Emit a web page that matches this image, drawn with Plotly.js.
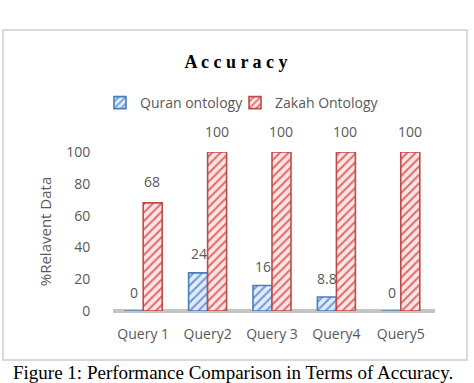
<!DOCTYPE html>
<html>
<head>
<meta charset="utf-8">
<script src="https://cdn.plot.ly/plotly-3.0.1.min.js"></script>
<style>
html,body{margin:0;padding:0;background:#fff;}
#chart{width:474px;height:383px;}
</style>
</head>
<body>
<div id="chart"></div>
<script>
// ---- data ----
var categories = ["Query 1", "Query2", "Query 3", "Query4", "Query5"];
var quranValues = [0, 24, 16, 8.8, 0];
var zakahValues = [68, 100, 100, 100, 100];
var quranLabels = ["0", "24", "16", "8.8", "0"];
var zakahLabels = ["68", "100", "100", "100", "100"];
var seriesNames = ["Quran ontology", "Zakah Ontology"];
var yTicks = [0, 20, 40, 60, 80, 100];

// ---- layout geometry (pixels) ----
var W = 474, H = 383;
var plotL = 111, plotR = 433, plotT = 152, plotB = 311;
function px(x){ return (x - plotL) / (plotR - plotL); }
function py(y){ return (plotB - y) / (plotB - plotT); }

var gray = "#595959";
var sans = "Open Sans, Noto Sans, sans-serif";

var traces = [
  {
    type: "bar", name: seriesNames[0], x: categories, y: quranValues,
    legend: "legend",
    marker: {
      color: "#dbe6f5",
      line: {color: "#4a7ebb", width: 1.6},
      pattern: {shape: "/", fgcolor: "#6b9bd8", bgcolor: "#e3ecf8", size: 6, solidity: 0.35}
    },
    hoverinfo: "x+y"
  },
  {
    type: "bar", name: seriesNames[1], x: categories, y: zakahValues,
    legend: "legend2",
    marker: {
      color: "#fadcdc",
      line: {color: "#be4b48", width: 1.6},
      pattern: {shape: "/", fgcolor: "#e06b6b", bgcolor: "#fde6e6", size: 6, solidity: 0.35}
    },
    hoverinfo: "x+y"
  }
];

var annotations = [];
var off = 9;
for (var i = 0; i < categories.length; i++) {
  annotations.push({x: categories[i], y: quranValues[i], xref: "x", yref: "y",
    text: quranLabels[i], showarrow: false, xshift: -off, yshift: 19,
    yanchor: "middle", font: {family: sans, size: 14, color: gray}});
  annotations.push({x: categories[i], y: zakahValues[i], xref: "x", yref: "y",
    text: zakahLabels[i], showarrow: false, xshift: off, yshift: 21,
    yanchor: "middle", font: {family: sans, size: 14, color: gray}});
}
annotations.push({
  xref: "paper", yref: "paper", x: px(233), y: py(372),
  xanchor: "center", yanchor: "middle", showarrow: false,
  text: "Figure 1: Performance Comparison in Terms of Accuracy.",
  font: {family: "Liberation Serif, Times New Roman, serif", size: 19, color: "#000"}
});

var legFont = {family: sans, size: 14, color: gray};
var layout = {
  width: W, height: H,
  margin: {l: plotL, r: W - plotR, t: plotT, b: H - plotB, pad: 0},
  paper_bgcolor: "#fff", plot_bgcolor: "rgba(0,0,0,0)",
  showlegend: true,
  title: {
    text: "<b>A c c u r a c y</b>",
    font: {family: "Liberation Serif, Times New Roman, serif", size: 18, color: "#000"},
    x: 236 / W, xanchor: "center", y: 1 - 62 / H, yanchor: "middle",
    xref: "container", yref: "container"
  },
  legend: {
    orientation: "h", x: px(100), xanchor: "left", y: py(103), yanchor: "middle",
    font: legFont, bgcolor: "rgba(0,0,0,0)"
  },
  legend2: {
    orientation: "h", x: px(235), xanchor: "left", y: py(103), yanchor: "middle",
    font: legFont, bgcolor: "rgba(0,0,0,0)"
  },
  barmode: "group", bargap: 0.41, bargroupgap: 0,
  xaxis: {
    type: "category", showgrid: false, zeroline: false, showline: false,
    ticks: "outside", ticklen: 10, tickcolor: "rgba(0,0,0,0)",
    tickfont: {family: sans, size: 14, color: gray}, fixedrange: true
  },
  yaxis: {
    range: [0, 100], tickvals: yTicks, ticktext: yTicks.map(String),
    showgrid: false, zeroline: false, showline: false,
    ticks: "outside", ticklen: 17, tickcolor: "rgba(0,0,0,0)",
    tickfont: {family: sans, size: 14, color: gray},
    title: {text: "%Relavent Data", font: {family: sans, size: 15, color: gray}, standoff: 10},
    fixedrange: true
  },
  shapes: [
    {type: "rect", xref: "paper", yref: "paper",
     x0: px(3), x1: px(467), y0: py(360), y1: py(30),
     line: {color: "#d9d9d9", width: 2}, fillcolor: "rgba(0,0,0,0)", layer: "below"},
    {type: "line", xref: "paper", yref: "paper",
     x0: px(113), x1: px(435), y0: py(311), y1: py(311),
     line: {color: "#c4c4c4", width: 4}, layer: "below"}
  ],
  annotations: annotations
};

Plotly.newPlot("chart", traces, layout, {displayModeBar: false, staticPlot: true});
</script>
</body>
</html>
